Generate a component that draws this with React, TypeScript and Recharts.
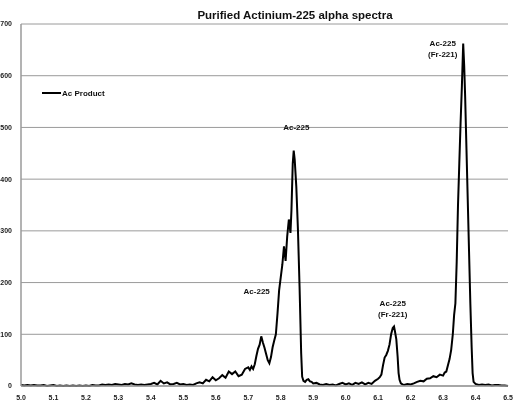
import React from 'react';
import { LineChart, Line, XAxis, YAxis, CartesianGrid, ReferenceDot } from 'recharts';

// alpha energy (MeV) and counts
const energy = [
  5.00, 5.01, 5.02, 5.03, 5.04, 5.05, 5.06, 5.07, 5.08, 5.09,
  5.10, 5.11, 5.12, 5.13, 5.14, 5.15, 5.16, 5.17, 5.18, 5.19,
  5.20, 5.21, 5.22, 5.23, 5.24, 5.25, 5.26, 5.27, 5.28, 5.29,
  5.30, 5.31, 5.32, 5.33, 5.34, 5.35, 5.36, 5.37, 5.38, 5.39,
  5.40, 5.41, 5.42, 5.43, 5.44, 5.45, 5.46, 5.47, 5.48, 5.49,
  5.50, 5.51, 5.52, 5.53, 5.54, 5.55, 5.56, 5.57, 5.58, 5.59,
  5.60, 5.61, 5.62, 5.63, 5.64, 5.65, 5.66, 5.67, 5.68, 5.69,
  5.70, 5.705, 5.71, 5.715, 5.72, 5.725, 5.73, 5.735, 5.74, 5.745,
  5.75, 5.755, 5.76, 5.765, 5.77, 5.775, 5.78, 5.785, 5.79, 5.795,
  5.80, 5.805, 5.81, 5.815, 5.82, 5.825, 5.83, 5.833, 5.837, 5.84,
  5.843, 5.848, 5.853, 5.858, 5.863, 5.866, 5.87, 5.875, 5.88, 5.885,
  5.89, 5.895, 5.90, 5.91, 5.92, 5.93, 5.94, 5.95, 5.96, 5.97,
  5.98, 5.99, 6.00, 6.01, 6.02, 6.03, 6.04, 6.05, 6.06, 6.07,
  6.08, 6.09, 6.10, 6.105, 6.11, 6.115, 6.12, 6.125, 6.13, 6.135,
  6.14, 6.145, 6.149, 6.152, 6.156, 6.16, 6.163, 6.166, 6.17, 6.175,
  6.18, 6.19, 6.20, 6.21, 6.22, 6.23, 6.24, 6.25, 6.26, 6.27,
  6.28, 6.29, 6.30, 6.305, 6.31, 6.315, 6.32, 6.325, 6.33, 6.334,
  6.338, 6.342, 6.346, 6.35, 6.354, 6.358, 6.362, 6.365, 6.368, 6.372,
  6.376, 6.38, 6.384, 6.388, 6.391, 6.394, 6.40, 6.41, 6.42, 6.43,
  6.44, 6.45, 6.46, 6.47, 6.48, 6.49, 6.50,
];

const counts = [
  2, 1, 2, 1, 2, 1, 1, 2, 0, 1,
  2, 0, 1, 0, 1, 0, 1, 0, 1, 0,
  1, 0, 2, 1, 1, 3, 2, 3, 2, 4,
  3, 2, 4, 3, 5, 3, 2, 3, 2, 3,
  4, 6, 3, 10, 5, 7, 3, 4, 6, 3,
  4, 2, 3, 2, 5, 7, 5, 12, 9, 17,
  11, 15, 21, 16, 28, 23, 28, 19, 22, 33,
  36, 31, 38, 33, 42, 58, 72, 80, 96, 84,
  74, 62, 50, 44, 56, 75, 88, 100, 140, 185,
  210, 235, 270, 242, 290, 322, 296, 340, 430, 455,
  438, 385, 302, 192, 63, 18, 10, 8, 12, 13,
  9, 8, 5, 6, 3, 2, 4, 2, 3, 1,
  4, 6, 3, 5, 2, 6, 4, 7, 3, 6,
  4, 10, 14, 17, 22, 40, 55, 60, 68, 80,
  100, 112, 115, 105, 90, 57, 25, 12, 5, 3,
  2, 4, 3, 5, 8, 10, 9, 14, 15, 19,
  17, 22, 20, 26, 28, 40, 52, 70, 100, 137,
  160, 240, 350, 430, 510, 580, 662, 620, 560, 460,
  360, 260, 160, 76, 25, 8, 4, 2, 3, 2,
  3, 1, 2, 2, 1, 1, 0,
];

const xTicks = [5.0, 5.1, 5.2, 5.3, 5.4, 5.5, 5.6, 5.7, 5.8, 5.9, 6.0, 6.1, 6.2, 6.3, 6.4, 6.5];
const yTicks = [0, 100, 200, 300, 400, 500, 600, 700];

const peakX = [5.848, 5.726, 6.145, 6.299];
const peakY = [500, 184, 161, 663];
const peakText = [['Ac-225'], ['Ac-225'], ['Ac-225', '(Fr-221)'], ['Ac-225', '(Fr-221)']];

const data = energy.map((e, i) => ({ e, c: counts[i] }));

const FONT = '"Liberation Sans", Arial, sans-serif';

const PeakLabel = ({ lines }: { lines: string[] }) => (props: any) => {
  const { viewBox } = props;
  const cx = viewBox.x + (viewBox.width || 0) / 2;
  const cy = viewBox.y + (viewBox.height || 0) / 2;
  return (
    <text x={cx} y={cy} textAnchor="middle" fontFamily={FONT} fontSize={8} fontWeight="bold" fill="#111">
      {lines.map((l, i) => (
        <tspan key={i} x={cx} dy={i === 0 ? 3 : 11}>{l}</tspan>
      ))}
    </text>
  );
};

export default function App() {
  return (
    <div style={{ position: 'fixed', top: 0, left: 0, width: 513, height: 400, background: '#fff' }}>
      <div
        style={{
          position: 'absolute',
          top: 7,
          left: 0,
          width: 590,
          textAlign: 'center',
          fontFamily: FONT,
          fontWeight: 'bold',
          fontSize: 11.5,
          color: '#111',
          lineHeight: '16px',
        }}
      >
        Purified Actinium-225 alpha spectra
      </div>
      <LineChart width={513} height={400} data={data} margin={{ top: 24, right: 5, bottom: 0, left: 0 }}>
        <CartesianGrid vertical={false} stroke="#9a9a9a" strokeWidth={1} />
        <XAxis
          dataKey="e"
          type="number"
          domain={[5, 6.5]}
          ticks={xTicks}
          tickFormatter={(v) => Number(v).toFixed(1)}
          height={14}
          axisLine={{ stroke: '#9a9a9a', strokeWidth: 1.5 }}
          tickLine={false}
          tickSize={4}
          tickMargin={5}
          tick={{ fontSize: 7, fontWeight: 'bold', fill: '#222', fontFamily: FONT }}
          interval={0}
        />
        <YAxis
          type="number"
          domain={[0, 700]}
          ticks={yTicks}
          width={21}
          axisLine={{ stroke: '#9a9a9a', strokeWidth: 1.5 }}
          tickLine={false}
          tickSize={6}
          tickMargin={3}
          tick={{ fontSize: 7, fontWeight: 'bold', fill: '#222', fontFamily: FONT }}
          interval={0}
        />
        <Line
          type="linear"
          dataKey="c"
          stroke="#000"
          strokeWidth={2}
          dot={false}
          isAnimationActive={false}
          name="Ac Product"
        />
        {peakX.map((x, i) => (
          <ReferenceDot
            key={i}
            x={x}
            y={peakY[i]}
            r={0}
            fill="none"
            stroke="none"
            ifOverflow="visible"
            label={PeakLabel({ lines: peakText[i] })}
          />
        ))}
      </LineChart>
      <svg style={{ position: 'absolute', top: 87, left: 42 }} width={70} height={12}>
        <line x1={0} y1={6} x2={19} y2={6} stroke="#000" strokeWidth={2} />
        <text x={20} y={9} fontFamily={FONT} fontSize={8} fontWeight="bold" fill="#111">Ac Product</text>
      </svg>
    </div>
  );
}
